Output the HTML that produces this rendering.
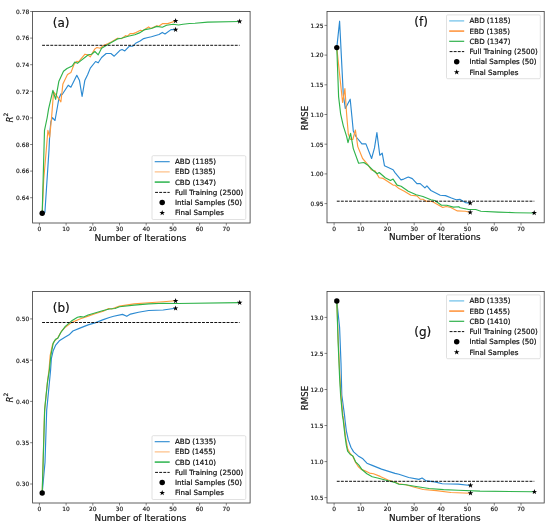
<!DOCTYPE html>
<html><head><meta charset="utf-8"><title>figure</title>
<style>html,body{margin:0;padding:0;background:#fff}svg{display:block}text{font-family:'DejaVu Sans','Liberation Sans',sans-serif}</style>
</head><body>
<svg width="550" height="527" viewBox="0 0 550 527">
<rect width="550" height="527" fill="#fff"/>
<rect x="32.6" y="11.5" width="217.5" height="211.5" fill="#fff" stroke="#3a3a3a" stroke-width="0.8"/>
<line x1="39.4" y1="223.0" x2="39.4" y2="225.5" stroke="#333" stroke-width="0.6"/>
<text x="39.4" y="230.7" font-size="5.9" text-anchor="middle" fill="#111" stroke="#111" stroke-width="0.15">0</text>
<line x1="66.1" y1="223.0" x2="66.1" y2="225.5" stroke="#333" stroke-width="0.6"/>
<text x="66.1" y="230.7" font-size="5.9" text-anchor="middle" fill="#111" stroke="#111" stroke-width="0.15">10</text>
<line x1="92.8" y1="223.0" x2="92.8" y2="225.5" stroke="#333" stroke-width="0.6"/>
<text x="92.8" y="230.7" font-size="5.9" text-anchor="middle" fill="#111" stroke="#111" stroke-width="0.15">20</text>
<line x1="119.5" y1="223.0" x2="119.5" y2="225.5" stroke="#333" stroke-width="0.6"/>
<text x="119.5" y="230.7" font-size="5.9" text-anchor="middle" fill="#111" stroke="#111" stroke-width="0.15">30</text>
<line x1="146.2" y1="223.0" x2="146.2" y2="225.5" stroke="#333" stroke-width="0.6"/>
<text x="146.2" y="230.7" font-size="5.9" text-anchor="middle" fill="#111" stroke="#111" stroke-width="0.15">40</text>
<line x1="172.9" y1="223.0" x2="172.9" y2="225.5" stroke="#333" stroke-width="0.6"/>
<text x="172.9" y="230.7" font-size="5.9" text-anchor="middle" fill="#111" stroke="#111" stroke-width="0.15">50</text>
<line x1="199.6" y1="223.0" x2="199.6" y2="225.5" stroke="#333" stroke-width="0.6"/>
<text x="199.6" y="230.7" font-size="5.9" text-anchor="middle" fill="#111" stroke="#111" stroke-width="0.15">60</text>
<line x1="226.3" y1="223.0" x2="226.3" y2="225.5" stroke="#333" stroke-width="0.6"/>
<text x="226.3" y="230.7" font-size="5.9" text-anchor="middle" fill="#111" stroke="#111" stroke-width="0.15">70</text>
<line x1="30.1" y1="11.5" x2="32.6" y2="11.5" stroke="#333" stroke-width="0.6"/>
<text x="29.2" y="13.8" font-size="5.9" text-anchor="end" fill="#111" stroke="#111" stroke-width="0.15">0.78</text>
<line x1="30.1" y1="38.1" x2="32.6" y2="38.1" stroke="#333" stroke-width="0.6"/>
<text x="29.2" y="40.4" font-size="5.9" text-anchor="end" fill="#111" stroke="#111" stroke-width="0.15">0.76</text>
<line x1="30.1" y1="64.7" x2="32.6" y2="64.7" stroke="#333" stroke-width="0.6"/>
<text x="29.2" y="67.0" font-size="5.9" text-anchor="end" fill="#111" stroke="#111" stroke-width="0.15">0.74</text>
<line x1="30.1" y1="91.3" x2="32.6" y2="91.3" stroke="#333" stroke-width="0.6"/>
<text x="29.2" y="93.6" font-size="5.9" text-anchor="end" fill="#111" stroke="#111" stroke-width="0.15">0.72</text>
<line x1="30.1" y1="117.9" x2="32.6" y2="117.9" stroke="#333" stroke-width="0.6"/>
<text x="29.2" y="120.2" font-size="5.9" text-anchor="end" fill="#111" stroke="#111" stroke-width="0.15">0.70</text>
<line x1="30.1" y1="144.5" x2="32.6" y2="144.5" stroke="#333" stroke-width="0.6"/>
<text x="29.2" y="146.8" font-size="5.9" text-anchor="end" fill="#111" stroke="#111" stroke-width="0.15">0.68</text>
<line x1="30.1" y1="171.1" x2="32.6" y2="171.1" stroke="#333" stroke-width="0.6"/>
<text x="29.2" y="173.4" font-size="5.9" text-anchor="end" fill="#111" stroke="#111" stroke-width="0.15">0.66</text>
<line x1="30.1" y1="197.7" x2="32.6" y2="197.7" stroke="#333" stroke-width="0.6"/>
<text x="29.2" y="200.0" font-size="5.9" text-anchor="end" fill="#111" stroke="#111" stroke-width="0.15">0.64</text>
<text x="140.5" y="240.5" font-size="8.85" text-anchor="middle" fill="#111" stroke="#111" stroke-width="0.18">Number of Iterations</text>
<polyline points="42.2,213.2 44.9,212.5 49.0,150.0 49.8,133.0 50.8,122.0 52.4,117.6 55.0,120.5 58.9,98.5 60.9,93.9 62.2,94.5 68.2,85.2 70.9,87.2 76.8,75.3 79.5,80.6 82.1,96.5 84.8,80.6 87.6,74.8 90.3,68.1 95.6,61.5 98.2,62.8 101.6,57.5 106.2,53.5 110.9,53.5 114.2,56.2 120.2,50.2 122.1,49.5 124.8,50.9 129.4,46.2 132.8,46.2 136.1,42.9 140.1,40.9 143.7,38.6 147.0,37.8 151.4,36.7 159.0,34.5 162.3,32.4 165.0,34.0 171.0,29.6 175.6,29.6" fill="none" stroke="#2b8ad2" stroke-width="1.15" stroke-linejoin="round"/>
<polyline points="42.2,213.2 43.7,179.8 46.2,150.8 47.9,130.3 49.7,137.1 51.6,117.0 53.6,91.9 56.2,95.2 60.9,101.8 62.9,83.9 67.5,74.6 70.9,72.6 74.2,64.0 76.8,61.3 78.3,62.1 85.0,54.2 87.6,54.8 90.3,56.8 94.9,48.9 96.9,47.5 100.2,48.2 103.6,45.5 108.2,43.6 112.2,41.6 117.5,38.2 121.5,38.6 125.5,35.6 127.5,36.2 130.1,33.6 133.4,33.6 135.0,32.9 140.5,30.2 142.6,30.7 148.6,26.9 150.8,28.5 156.8,25.8 158.4,26.4 162.8,23.6 167.7,23.6 175.6,21.0" fill="none" stroke="#ff9a3c" stroke-width="1.15" stroke-linejoin="round"/>
<polyline points="42.2,213.2 44.5,130.3 47.1,118.0 48.6,108.9 52.9,90.4 55.6,99.3 58.9,81.2 63.5,71.3 67.0,68.5 72.2,66.0 74.8,62.0 77.5,63.3 79.0,62.1 88.3,54.8 91.6,54.2 94.9,51.5 98.2,54.8 101.6,48.2 109.5,43.6 117.5,38.9 121.5,38.2 128.1,36.2 134.8,34.7 139.4,32.9 144.8,29.6 151.4,28.5 156.8,26.4 162.3,27.2 166.6,25.3 173.2,24.2 178.6,25.0 183.0,24.2 189.5,23.5 195.0,23.2 207.7,22.1 239.6,21.5" fill="none" stroke="#2fb34a" stroke-width="1.15" stroke-linejoin="round"/>
<line x1="42.1" y1="45.3" x2="239.6" y2="45.3" stroke="#111" stroke-width="1.0" stroke-dasharray="2.9 1.2"/>
<circle cx="42.2" cy="213.2" r="2.7" fill="#000"/>
<polygon points="175.6,18.1 176.3,20.1 178.4,20.1 176.7,21.3 177.3,23.3 175.6,22.1 173.9,23.3 174.5,21.3 172.8,20.1 174.9,20.1" fill="#000"/>
<polygon points="175.6,26.8 176.3,28.8 178.4,28.8 176.7,30.0 177.3,32.0 175.6,30.8 173.9,32.0 174.5,30.0 172.8,28.8 174.9,28.8" fill="#000"/>
<polygon points="239.6,18.6 240.3,20.6 242.4,20.6 240.7,21.8 241.3,23.8 239.6,22.6 237.9,23.8 238.5,21.8 236.8,20.6 238.9,20.6" fill="#000"/>
<rect x="152" y="155.7" width="93.8" height="63.8" rx="1.2" fill="#fff" fill-opacity="0.8" stroke="#d4d4d4" stroke-width="0.7"/>
<line x1="154.7" y1="161.7" x2="169.7" y2="161.7" stroke="#2a8ad0" stroke-width="1.1"/>
<line x1="154.7" y1="171.9" x2="169.7" y2="171.9" stroke="#fdb97a" stroke-width="1.1"/>
<line x1="154.7" y1="182.1" x2="169.7" y2="182.1" stroke="#45bd62" stroke-width="1.7"/>
<line x1="155.1" y1="192.4" x2="169.7" y2="192.4" stroke="#111" stroke-width="1.0" stroke-dasharray="2.9 1.2"/>
<circle cx="162.2" cy="202.6" r="2.75" fill="#000"/>
<polygon points="162.2,210.0 162.9,212.0 165.0,212.0 163.3,213.2 163.9,215.2 162.2,214.0 160.5,215.2 161.1,213.2 159.4,212.0 161.5,212.0" fill="#000"/>
<text x="174.9" y="164.2" font-size="7.12" fill="#111" stroke="#111" stroke-width="0.2">ABD (1185)</text>
<text x="174.9" y="174.4" font-size="7.12" fill="#111" stroke="#111" stroke-width="0.2">EBD (1385)</text>
<text x="174.9" y="184.6" font-size="7.12" fill="#111" stroke="#111" stroke-width="0.2">CBD (1347)</text>
<text x="174.9" y="194.9" font-size="7.12" fill="#111" stroke="#111" stroke-width="0.2">Full Training (2500)</text>
<text x="174.9" y="205.1" font-size="7.12" fill="#111" stroke="#111" stroke-width="0.2">Intial Samples (50)</text>
<text x="174.9" y="215.3" font-size="7.12" fill="#111" stroke="#111" stroke-width="0.2">Final Samples</text>
<text x="52.8" y="26.5" font-size="12" fill="#111" stroke="#111" stroke-width="0.2">(a)</text>
<text transform="translate(12.5,117.6) rotate(-90)" font-size="8.6" text-anchor="middle" fill="#111" stroke="#111" stroke-width="0.15"><tspan font-style="italic">R</tspan><tspan dy="-4.4" font-size="6">2</tspan></text>
<rect x="32.6" y="291.5" width="217.5" height="211.5" fill="#fff" stroke="#3a3a3a" stroke-width="0.8"/>
<line x1="39.4" y1="503.0" x2="39.4" y2="505.5" stroke="#333" stroke-width="0.6"/>
<text x="39.4" y="510.7" font-size="5.9" text-anchor="middle" fill="#111" stroke="#111" stroke-width="0.15">0</text>
<line x1="66.1" y1="503.0" x2="66.1" y2="505.5" stroke="#333" stroke-width="0.6"/>
<text x="66.1" y="510.7" font-size="5.9" text-anchor="middle" fill="#111" stroke="#111" stroke-width="0.15">10</text>
<line x1="92.8" y1="503.0" x2="92.8" y2="505.5" stroke="#333" stroke-width="0.6"/>
<text x="92.8" y="510.7" font-size="5.9" text-anchor="middle" fill="#111" stroke="#111" stroke-width="0.15">20</text>
<line x1="119.5" y1="503.0" x2="119.5" y2="505.5" stroke="#333" stroke-width="0.6"/>
<text x="119.5" y="510.7" font-size="5.9" text-anchor="middle" fill="#111" stroke="#111" stroke-width="0.15">30</text>
<line x1="146.2" y1="503.0" x2="146.2" y2="505.5" stroke="#333" stroke-width="0.6"/>
<text x="146.2" y="510.7" font-size="5.9" text-anchor="middle" fill="#111" stroke="#111" stroke-width="0.15">40</text>
<line x1="172.9" y1="503.0" x2="172.9" y2="505.5" stroke="#333" stroke-width="0.6"/>
<text x="172.9" y="510.7" font-size="5.9" text-anchor="middle" fill="#111" stroke="#111" stroke-width="0.15">50</text>
<line x1="199.6" y1="503.0" x2="199.6" y2="505.5" stroke="#333" stroke-width="0.6"/>
<text x="199.6" y="510.7" font-size="5.9" text-anchor="middle" fill="#111" stroke="#111" stroke-width="0.15">60</text>
<line x1="226.3" y1="503.0" x2="226.3" y2="505.5" stroke="#333" stroke-width="0.6"/>
<text x="226.3" y="510.7" font-size="5.9" text-anchor="middle" fill="#111" stroke="#111" stroke-width="0.15">70</text>
<line x1="30.1" y1="318.9" x2="32.6" y2="318.9" stroke="#333" stroke-width="0.6"/>
<text x="29.2" y="321.2" font-size="5.9" text-anchor="end" fill="#111" stroke="#111" stroke-width="0.15">0.50</text>
<line x1="30.1" y1="360.2" x2="32.6" y2="360.2" stroke="#333" stroke-width="0.6"/>
<text x="29.2" y="362.5" font-size="5.9" text-anchor="end" fill="#111" stroke="#111" stroke-width="0.15">0.45</text>
<line x1="30.1" y1="401.4" x2="32.6" y2="401.4" stroke="#333" stroke-width="0.6"/>
<text x="29.2" y="403.7" font-size="5.9" text-anchor="end" fill="#111" stroke="#111" stroke-width="0.15">0.40</text>
<line x1="30.1" y1="442.7" x2="32.6" y2="442.7" stroke="#333" stroke-width="0.6"/>
<text x="29.2" y="445.0" font-size="5.9" text-anchor="end" fill="#111" stroke="#111" stroke-width="0.15">0.35</text>
<line x1="30.1" y1="484.0" x2="32.6" y2="484.0" stroke="#333" stroke-width="0.6"/>
<text x="29.2" y="486.3" font-size="5.9" text-anchor="end" fill="#111" stroke="#111" stroke-width="0.15">0.30</text>
<text x="140.5" y="520.5" font-size="8.85" text-anchor="middle" fill="#111" stroke="#111" stroke-width="0.18">Number of Iterations</text>
<polyline points="42.2,493.0 45.0,462.5 46.7,410.0 47.7,400.0 50.6,370.0 51.4,358.3 53.2,350.7 55.5,345.4 59.3,340.8 65.3,337.0 69.1,334.8 72.9,331.0 80.5,327.9 88.1,324.9 95.7,322.6 103.3,319.6 109.4,317.5 113.7,316.3 122.5,314.4 126.8,316.3 130.5,314.1 138.5,312.3 148.6,310.5 163.2,310.0 175.6,308.3" fill="none" stroke="#2b8ad2" stroke-width="1.15" stroke-linejoin="round"/>
<polyline points="42.2,493.0 44.5,412.0 47.3,383.0 49.0,370.0 50.2,355.3 52.5,344.6 54.7,340.8 57.8,337.8 61.6,331.0 65.3,327.2 71.4,322.6 80.5,318.8 88.1,316.1 95.7,313.5 103.3,311.2 108.6,308.5 111.5,309.0 119.5,306.1 134.1,303.9 148.6,302.7 163.2,301.7 175.6,300.8" fill="none" stroke="#ff9a3c" stroke-width="1.15" stroke-linejoin="round"/>
<polyline points="42.2,493.0 44.7,409.0 45.6,400.0 47.6,381.3 49.4,370.0 50.9,355.3 53.2,343.1 55.5,339.3 57.8,338.3 60.8,332.5 65.3,326.4 71.4,321.1 77.5,317.3 80.5,316.6 83.6,317.0 88.1,315.0 95.7,312.8 103.3,310.5 109.4,309.0 115.0,308.5 119.5,306.8 134.1,305.1 148.6,303.9 163.2,303.2 177.9,303.5 239.7,302.6" fill="none" stroke="#2fb34a" stroke-width="1.15" stroke-linejoin="round"/>
<line x1="42.1" y1="322.5" x2="239.6" y2="322.5" stroke="#111" stroke-width="1.0" stroke-dasharray="2.9 1.2"/>
<circle cx="42.2" cy="493" r="2.7" fill="#000"/>
<polygon points="175.6,298.1 176.3,300.1 178.4,300.1 176.7,301.3 177.3,303.3 175.6,302.1 173.9,303.3 174.5,301.3 172.8,300.1 174.9,300.1" fill="#000"/>
<polygon points="175.6,305.4 176.3,307.4 178.4,307.4 176.7,308.6 177.3,310.6 175.6,309.4 173.9,310.6 174.5,308.6 172.8,307.4 174.9,307.4" fill="#000"/>
<polygon points="239.7,299.8 240.4,301.8 242.5,301.8 240.8,303.0 241.4,305.0 239.7,303.8 238.0,305.0 238.6,303.0 236.9,301.8 239.0,301.8" fill="#000"/>
<rect x="152" y="435.7" width="93.8" height="63.8" rx="1.2" fill="#fff" fill-opacity="0.8" stroke="#d4d4d4" stroke-width="0.7"/>
<line x1="154.7" y1="441.7" x2="169.7" y2="441.7" stroke="#2a8ad0" stroke-width="1.1"/>
<line x1="154.7" y1="451.9" x2="169.7" y2="451.9" stroke="#fdb97a" stroke-width="1.1"/>
<line x1="154.7" y1="462.1" x2="169.7" y2="462.1" stroke="#45bd62" stroke-width="1.7"/>
<line x1="155.1" y1="472.4" x2="169.7" y2="472.4" stroke="#111" stroke-width="1.0" stroke-dasharray="2.9 1.2"/>
<circle cx="162.2" cy="482.6" r="2.75" fill="#000"/>
<polygon points="162.2,490.0 162.9,492.0 165.0,492.0 163.3,493.2 163.9,495.2 162.2,494.0 160.5,495.2 161.1,493.2 159.4,492.0 161.5,492.0" fill="#000"/>
<text x="174.9" y="444.2" font-size="7.12" fill="#111" stroke="#111" stroke-width="0.2">ABD (1335)</text>
<text x="174.9" y="454.4" font-size="7.12" fill="#111" stroke="#111" stroke-width="0.2">EBD (1455)</text>
<text x="174.9" y="464.6" font-size="7.12" fill="#111" stroke="#111" stroke-width="0.2">CBD (1410)</text>
<text x="174.9" y="474.9" font-size="7.12" fill="#111" stroke="#111" stroke-width="0.2">Full Training (2500)</text>
<text x="174.9" y="485.1" font-size="7.12" fill="#111" stroke="#111" stroke-width="0.2">Intial Samples (50)</text>
<text x="174.9" y="495.3" font-size="7.12" fill="#111" stroke="#111" stroke-width="0.2">Final Samples</text>
<text x="52.8" y="311.7" font-size="12" fill="#111" stroke="#111" stroke-width="0.2">(b)</text>
<text transform="translate(12.5,397.6) rotate(-90)" font-size="8.6" text-anchor="middle" fill="#111" stroke="#111" stroke-width="0.15"><tspan font-style="italic">R</tspan><tspan dy="-4.4" font-size="6">2</tspan></text>
<rect x="327" y="11.5" width="217.2" height="211.3" fill="#fff" stroke="#3a3a3a" stroke-width="0.8"/>
<line x1="334.1" y1="222.8" x2="334.1" y2="225.3" stroke="#333" stroke-width="0.6"/>
<text x="334.1" y="230.5" font-size="5.9" text-anchor="middle" fill="#111" stroke="#111" stroke-width="0.15">0</text>
<line x1="360.8" y1="222.8" x2="360.8" y2="225.3" stroke="#333" stroke-width="0.6"/>
<text x="360.8" y="230.5" font-size="5.9" text-anchor="middle" fill="#111" stroke="#111" stroke-width="0.15">10</text>
<line x1="387.5" y1="222.8" x2="387.5" y2="225.3" stroke="#333" stroke-width="0.6"/>
<text x="387.5" y="230.5" font-size="5.9" text-anchor="middle" fill="#111" stroke="#111" stroke-width="0.15">20</text>
<line x1="414.2" y1="222.8" x2="414.2" y2="225.3" stroke="#333" stroke-width="0.6"/>
<text x="414.2" y="230.5" font-size="5.9" text-anchor="middle" fill="#111" stroke="#111" stroke-width="0.15">30</text>
<line x1="440.9" y1="222.8" x2="440.9" y2="225.3" stroke="#333" stroke-width="0.6"/>
<text x="440.9" y="230.5" font-size="5.9" text-anchor="middle" fill="#111" stroke="#111" stroke-width="0.15">40</text>
<line x1="467.6" y1="222.8" x2="467.6" y2="225.3" stroke="#333" stroke-width="0.6"/>
<text x="467.6" y="230.5" font-size="5.9" text-anchor="middle" fill="#111" stroke="#111" stroke-width="0.15">50</text>
<line x1="494.3" y1="222.8" x2="494.3" y2="225.3" stroke="#333" stroke-width="0.6"/>
<text x="494.3" y="230.5" font-size="5.9" text-anchor="middle" fill="#111" stroke="#111" stroke-width="0.15">60</text>
<line x1="521.0" y1="222.8" x2="521.0" y2="225.3" stroke="#333" stroke-width="0.6"/>
<text x="521.0" y="230.5" font-size="5.9" text-anchor="middle" fill="#111" stroke="#111" stroke-width="0.15">70</text>
<line x1="324.5" y1="25.4" x2="327" y2="25.4" stroke="#333" stroke-width="0.6"/>
<text x="323.6" y="27.7" font-size="5.9" text-anchor="end" fill="#111" stroke="#111" stroke-width="0.15">1.25</text>
<line x1="324.5" y1="55.1" x2="327" y2="55.1" stroke="#333" stroke-width="0.6"/>
<text x="323.6" y="57.4" font-size="5.9" text-anchor="end" fill="#111" stroke="#111" stroke-width="0.15">1.20</text>
<line x1="324.5" y1="84.8" x2="327" y2="84.8" stroke="#333" stroke-width="0.6"/>
<text x="323.6" y="87.1" font-size="5.9" text-anchor="end" fill="#111" stroke="#111" stroke-width="0.15">1.15</text>
<line x1="324.5" y1="114.5" x2="327" y2="114.5" stroke="#333" stroke-width="0.6"/>
<text x="323.6" y="116.8" font-size="5.9" text-anchor="end" fill="#111" stroke="#111" stroke-width="0.15">1.10</text>
<line x1="324.5" y1="144.2" x2="327" y2="144.2" stroke="#333" stroke-width="0.6"/>
<text x="323.6" y="146.5" font-size="5.9" text-anchor="end" fill="#111" stroke="#111" stroke-width="0.15">1.05</text>
<line x1="324.5" y1="173.9" x2="327" y2="173.9" stroke="#333" stroke-width="0.6"/>
<text x="323.6" y="176.2" font-size="5.9" text-anchor="end" fill="#111" stroke="#111" stroke-width="0.15">1.00</text>
<line x1="324.5" y1="203.6" x2="327" y2="203.6" stroke="#333" stroke-width="0.6"/>
<text x="323.6" y="205.9" font-size="5.9" text-anchor="end" fill="#111" stroke="#111" stroke-width="0.15">0.95</text>
<text x="434.8" y="240.3" font-size="8.85" text-anchor="middle" fill="#111" stroke="#111" stroke-width="0.18">Number of Iterations</text>
<polyline points="336.8,47.6 339.6,21.2 343.3,94.6 345.3,108.5 350.2,99.2 351.9,116.5 353.3,131.0 355.9,136.5 361.9,143.9 365.9,143.9 371.6,158.5 374.5,147.9 376.9,132.6 379.8,155.2 382.2,153.2 384.5,165.8 393.1,169.8 395.0,172.6 401.0,179.9 403.7,179.1 408.3,177.0 412.3,178.6 416.9,183.6 420.2,183.6 424.9,187.9 426.9,185.9 430.9,190.5 440.2,195.2 445.5,195.6 450.8,197.8 456.1,199.8 460.1,199.4 465.4,202.6 470.2,203.2" fill="none" stroke="#2b8ad2" stroke-width="1.15" stroke-linejoin="round"/>
<polyline points="336.8,47.6 340.2,80.0 342.6,102.5 344.9,88.6 346.6,113.8 348.3,134.0 350.5,139.5 352.8,139.5 355.4,130.0 357.8,146.6 362.6,158.5 367.2,163.8 371.2,169.8 375.2,171.1 379.2,177.8 383.2,178.4 393.1,185.1 395.0,185.2 399.0,188.6 404.3,191.2 410.9,195.2 416.9,195.9 420.2,199.2 422.9,199.2 426.9,201.4 432.2,201.4 436.2,203.8 442.8,207.5 446.1,206.5 450.8,207.5 457.4,210.9 465.4,211.3 470.2,212.5" fill="none" stroke="#ff9a3c" stroke-width="1.15" stroke-linejoin="round"/>
<polyline points="336.8,47.6 338.0,80.0 338.6,96.6 340.6,113.8 343.3,125.8 346.6,136.4 348.0,142.6 350.6,133.3 353.3,148.6 358.6,163.2 363.9,162.5 367.9,165.2 373.2,170.5 377.2,173.8 379.2,172.5 385.2,177.8 390.5,180.4 393.1,179.1 397.1,185.1 401.1,186.2 408.3,191.2 416.2,194.8 422.9,196.5 430.9,199.8 434.8,200.5 441.5,205.2 446.8,205.2 453.4,207.1 458.7,206.7 460.2,207.8 468.8,209.5 475.7,209.5 480.9,211.3 498.2,212.1 515.4,212.7 534.3,213.0" fill="none" stroke="#2fb34a" stroke-width="1.15" stroke-linejoin="round"/>
<line x1="336.8" y1="201.2" x2="534.3" y2="201.2" stroke="#111" stroke-width="1.0" stroke-dasharray="2.9 1.2"/>
<circle cx="336.8" cy="47.6" r="2.7" fill="#000"/>
<polygon points="470.2,200.3 470.9,202.3 473.0,202.3 471.3,203.5 471.9,205.5 470.2,204.3 468.5,205.5 469.1,203.5 467.4,202.3 469.5,202.3" fill="#000"/>
<polygon points="470.2,209.6 470.9,211.6 473.0,211.6 471.3,212.8 471.9,214.8 470.2,213.6 468.5,214.8 469.1,212.8 467.4,211.6 469.5,211.6" fill="#000"/>
<polygon points="534.2,210.1 534.9,212.1 537.0,212.1 535.3,213.3 535.9,215.3 534.2,214.1 532.5,215.3 533.1,213.3 531.4,212.1 533.5,212.1" fill="#000"/>
<rect x="446.5" y="14.9" width="93.8" height="63.8" rx="1.2" fill="#fff" fill-opacity="0.8" stroke="#d4d4d4" stroke-width="0.7"/>
<line x1="449.2" y1="20.9" x2="464.2" y2="20.9" stroke="#6bbfe8" stroke-width="1.2"/>
<line x1="449.2" y1="31.1" x2="464.2" y2="31.1" stroke="#ff9d4d" stroke-width="1.7"/>
<line x1="449.2" y1="41.3" x2="464.2" y2="41.3" stroke="#2fb24c" stroke-width="1.2"/>
<line x1="449.59999999999997" y1="51.6" x2="464.2" y2="51.6" stroke="#111" stroke-width="1.0" stroke-dasharray="2.9 1.2"/>
<circle cx="456.7" cy="61.8" r="2.75" fill="#000"/>
<polygon points="456.7,69.2 457.4,71.2 459.5,71.2 457.8,72.4 458.4,74.4 456.7,73.2 455.0,74.4 455.6,72.4 453.9,71.2 456.0,71.2" fill="#000"/>
<text x="469.4" y="23.4" font-size="7.12" fill="#111" stroke="#111" stroke-width="0.2">ABD (1185)</text>
<text x="469.4" y="33.6" font-size="7.12" fill="#111" stroke="#111" stroke-width="0.2">EBD (1385)</text>
<text x="469.4" y="43.8" font-size="7.12" fill="#111" stroke="#111" stroke-width="0.2">CBD (1347)</text>
<text x="469.4" y="54.1" font-size="7.12" fill="#111" stroke="#111" stroke-width="0.2">Full Training (2500)</text>
<text x="469.4" y="64.3" font-size="7.12" fill="#111" stroke="#111" stroke-width="0.2">Intial Samples (50)</text>
<text x="469.4" y="74.5" font-size="7.12" fill="#111" stroke="#111" stroke-width="0.2">Final Samples</text>
<text x="414.3" y="26.3" font-size="12" fill="#111" stroke="#111" stroke-width="0.2">(f)</text>
<text transform="translate(308,118) rotate(-90)" font-size="8.6" text-anchor="middle" fill="#111" stroke="#111" stroke-width="0.18">RMSE</text>
<rect x="327" y="291.5" width="217.2" height="211.5" fill="#fff" stroke="#3a3a3a" stroke-width="0.8"/>
<line x1="334.1" y1="503.0" x2="334.1" y2="505.5" stroke="#333" stroke-width="0.6"/>
<text x="334.1" y="510.7" font-size="5.9" text-anchor="middle" fill="#111" stroke="#111" stroke-width="0.15">0</text>
<line x1="360.8" y1="503.0" x2="360.8" y2="505.5" stroke="#333" stroke-width="0.6"/>
<text x="360.8" y="510.7" font-size="5.9" text-anchor="middle" fill="#111" stroke="#111" stroke-width="0.15">10</text>
<line x1="387.5" y1="503.0" x2="387.5" y2="505.5" stroke="#333" stroke-width="0.6"/>
<text x="387.5" y="510.7" font-size="5.9" text-anchor="middle" fill="#111" stroke="#111" stroke-width="0.15">20</text>
<line x1="414.2" y1="503.0" x2="414.2" y2="505.5" stroke="#333" stroke-width="0.6"/>
<text x="414.2" y="510.7" font-size="5.9" text-anchor="middle" fill="#111" stroke="#111" stroke-width="0.15">30</text>
<line x1="440.9" y1="503.0" x2="440.9" y2="505.5" stroke="#333" stroke-width="0.6"/>
<text x="440.9" y="510.7" font-size="5.9" text-anchor="middle" fill="#111" stroke="#111" stroke-width="0.15">40</text>
<line x1="467.6" y1="503.0" x2="467.6" y2="505.5" stroke="#333" stroke-width="0.6"/>
<text x="467.6" y="510.7" font-size="5.9" text-anchor="middle" fill="#111" stroke="#111" stroke-width="0.15">50</text>
<line x1="494.3" y1="503.0" x2="494.3" y2="505.5" stroke="#333" stroke-width="0.6"/>
<text x="494.3" y="510.7" font-size="5.9" text-anchor="middle" fill="#111" stroke="#111" stroke-width="0.15">60</text>
<line x1="521.0" y1="503.0" x2="521.0" y2="505.5" stroke="#333" stroke-width="0.6"/>
<text x="521.0" y="510.7" font-size="5.9" text-anchor="middle" fill="#111" stroke="#111" stroke-width="0.15">70</text>
<line x1="324.5" y1="317.4" x2="327" y2="317.4" stroke="#333" stroke-width="0.6"/>
<text x="323.6" y="319.7" font-size="5.9" text-anchor="end" fill="#111" stroke="#111" stroke-width="0.15">13.0</text>
<line x1="324.5" y1="353.4" x2="327" y2="353.4" stroke="#333" stroke-width="0.6"/>
<text x="323.6" y="355.8" font-size="5.9" text-anchor="end" fill="#111" stroke="#111" stroke-width="0.15">12.5</text>
<line x1="324.5" y1="389.5" x2="327" y2="389.5" stroke="#333" stroke-width="0.6"/>
<text x="323.6" y="391.8" font-size="5.9" text-anchor="end" fill="#111" stroke="#111" stroke-width="0.15">12.0</text>
<line x1="324.5" y1="425.5" x2="327" y2="425.5" stroke="#333" stroke-width="0.6"/>
<text x="323.6" y="427.8" font-size="5.9" text-anchor="end" fill="#111" stroke="#111" stroke-width="0.15">11.5</text>
<line x1="324.5" y1="461.6" x2="327" y2="461.6" stroke="#333" stroke-width="0.6"/>
<text x="323.6" y="463.9" font-size="5.9" text-anchor="end" fill="#111" stroke="#111" stroke-width="0.15">11.0</text>
<line x1="324.5" y1="497.6" x2="327" y2="497.6" stroke="#333" stroke-width="0.6"/>
<text x="323.6" y="499.9" font-size="5.9" text-anchor="end" fill="#111" stroke="#111" stroke-width="0.15">10.5</text>
<text x="434.8" y="520.5" font-size="8.85" text-anchor="middle" fill="#111" stroke="#111" stroke-width="0.18">Number of Iterations</text>
<polyline points="336.8,301.0 339.6,327.5 341.0,363.0 341.8,395.0 344.6,415.9 345.0,420.0 346.3,430.6 348.3,439.9 350.9,447.2 353.6,451.9 358.2,455.9 362.9,458.8 366.9,463.2 372.2,465.4 381.5,469.1 395.0,473.4 398.9,474.3 408.7,477.5 418.9,479.4 422.1,478.0 426.2,480.9 434.9,481.9 442.2,483.7 458.2,484.1 470.5,485.5" fill="none" stroke="#2b8ad2" stroke-width="1.15" stroke-linejoin="round"/>
<polyline points="336.8,301.0 338.3,342.0 339.9,377.5 341.0,395.0 342.9,415.9 343.6,420.0 345.6,437.3 347.6,448.6 349.6,452.5 352.9,456.5 355.6,462.5 358.2,466.5 360.9,469.1 365.5,471.1 369.5,473.1 373.5,473.8 380.2,476.4 388.1,480.0 395.0,482.2 398.9,483.7 405.8,484.8 414.5,487.3 423.3,489.5 436.4,490.6 450.9,492.5 470.5,493.2" fill="none" stroke="#ff9a3c" stroke-width="1.15" stroke-linejoin="round"/>
<polyline points="336.8,301.0 338.1,342.0 339.6,377.5 340.6,395.0 342.5,415.9 343.2,420.0 345.0,435.9 346.3,445.2 347.6,451.2 350.3,454.5 352.9,455.9 355.6,461.8 358.9,465.2 362.2,469.8 366.9,473.8 372.2,476.8 377.5,478.0 388.1,480.8 395.0,482.4 398.9,484.2 405.8,484.8 414.5,486.3 429.1,488.5 443.6,489.6 458.2,490.3 480.0,491.1 534.4,491.8" fill="none" stroke="#2fb34a" stroke-width="1.15" stroke-linejoin="round"/>
<line x1="336.8" y1="481.3" x2="534.3" y2="481.3" stroke="#111" stroke-width="1.0" stroke-dasharray="2.9 1.2"/>
<circle cx="336.8" cy="301" r="2.7" fill="#000"/>
<polygon points="470.5,482.6 471.2,484.6 473.3,484.6 471.6,485.8 472.2,487.8 470.5,486.6 468.8,487.8 469.4,485.8 467.7,484.6 469.8,484.6" fill="#000"/>
<polygon points="470.5,490.2 471.2,492.2 473.3,492.2 471.6,493.4 472.2,495.4 470.5,494.2 468.8,495.4 469.4,493.4 467.7,492.2 469.8,492.2" fill="#000"/>
<polygon points="534.4,488.9 535.1,490.9 537.2,490.9 535.5,492.1 536.1,494.1 534.4,492.9 532.7,494.1 533.3,492.1 531.6,490.9 533.7,490.9" fill="#000"/>
<rect x="446.5" y="294.9" width="93.8" height="63.8" rx="1.2" fill="#fff" fill-opacity="0.8" stroke="#d4d4d4" stroke-width="0.7"/>
<line x1="449.2" y1="300.9" x2="464.2" y2="300.9" stroke="#6bbfe8" stroke-width="1.2"/>
<line x1="449.2" y1="311.1" x2="464.2" y2="311.1" stroke="#ff9d4d" stroke-width="1.7"/>
<line x1="449.2" y1="321.3" x2="464.2" y2="321.3" stroke="#2fb24c" stroke-width="1.2"/>
<line x1="449.59999999999997" y1="331.6" x2="464.2" y2="331.6" stroke="#111" stroke-width="1.0" stroke-dasharray="2.9 1.2"/>
<circle cx="456.7" cy="341.8" r="2.75" fill="#000"/>
<polygon points="456.7,349.2 457.4,351.2 459.5,351.2 457.8,352.4 458.4,354.4 456.7,353.2 455.0,354.4 455.6,352.4 453.9,351.2 456.0,351.2" fill="#000"/>
<text x="469.4" y="303.4" font-size="7.12" fill="#111" stroke="#111" stroke-width="0.2">ABD (1335)</text>
<text x="469.4" y="313.6" font-size="7.12" fill="#111" stroke="#111" stroke-width="0.2">EBD (1455)</text>
<text x="469.4" y="323.8" font-size="7.12" fill="#111" stroke="#111" stroke-width="0.2">CBD (1410)</text>
<text x="469.4" y="334.1" font-size="7.12" fill="#111" stroke="#111" stroke-width="0.2">Full Training (2500)</text>
<text x="469.4" y="344.3" font-size="7.12" fill="#111" stroke="#111" stroke-width="0.2">Intial Samples (50)</text>
<text x="469.4" y="354.5" font-size="7.12" fill="#111" stroke="#111" stroke-width="0.2">Final Samples</text>
<text x="414.3" y="336.3" font-size="12" fill="#111" stroke="#111" stroke-width="0.2">(g)</text>
<text transform="translate(308,398) rotate(-90)" font-size="8.6" text-anchor="middle" fill="#111" stroke="#111" stroke-width="0.18">RMSE</text>
</svg>
</body></html>
